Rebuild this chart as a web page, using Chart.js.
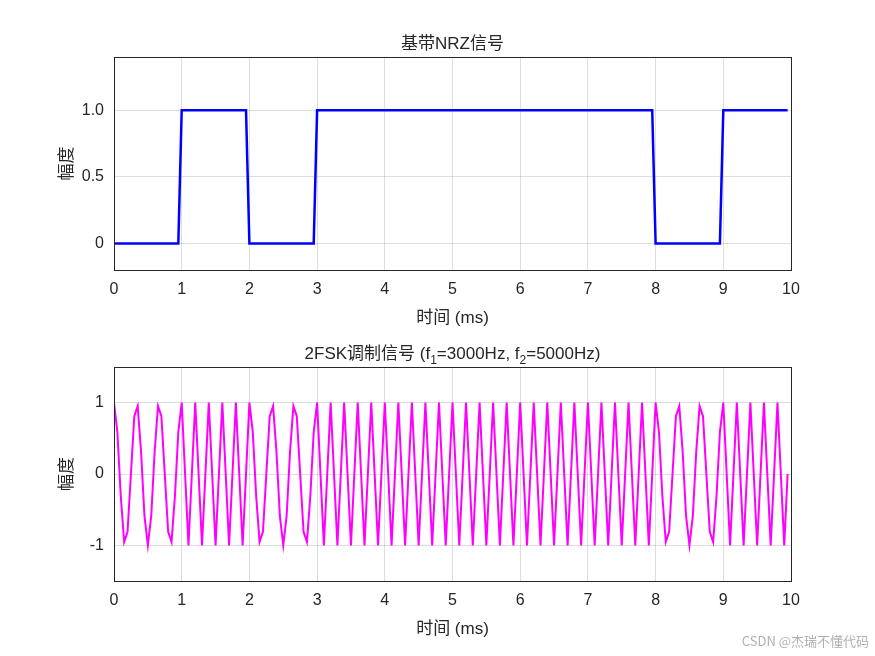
<!DOCTYPE html>
<html>
<head>
<meta charset="utf-8">
<script src="https://cdn.jsdelivr.net/npm/chart.js@4"></script>
<style>
  body { margin: 0; background: #fff; }
  .box { position: absolute; left: 0; width: 875px; height: 328px; }
  #mark { position: absolute; right: 6px; bottom: 6px; font: 13px "Noto Sans CJK SC", sans-serif; color: #b0b0b0; }
</style>
</head>
<body>
<div class="box" style="top:0"><canvas id="nrz"></canvas></div>
<div class="box" style="top:328px"><canvas id="fsk"></canvas></div>
<div id="mark">CSDN @杰瑞不懂代码</div>
<script>
// 数据
const bits = [0, 1, 0, 1, 1, 1, 1, 1, 0, 1];
const sampleStep = 0.05; // ms
// 3000Hz 一个码元内的采样值 (20 点)
const tone3k = [1, 0.588, -0.309, -0.951, -0.809, 0, 0.809, 0.951, 0.309, -0.588,
                -1, -0.588, 0.309, 0.951, 0.809, 0, -0.809, -0.951, -0.309, 0.588];
// 5000Hz 一个码元内的采样值 (20 点)
const tone5k = [1, 0, -1, 0, 1, 0, -1, 0, 1, 0, -1, 0, 1, 0, -1, 0, 1, 0, -1, 0];
const xTicks = [0, 1, 2, 3, 4, 5, 6, 7, 8, 9, 10];
const yTicksNrz = [0, 0.5, 1];
const yTicksFsk = [-1, 0, 1];

const nrzPts = [], fskPts = [];
bits.forEach((b, i) => {
  const tone = b ? tone5k : tone3k;
  tone.forEach((v, k) => {
    const t = (i * 20 + k) * sampleStep;
    nrzPts.push({ x: t, y: b });
    fskPts.push({ x: t, y: v });
  });
});

const txt = '#262626';
const font = '"Liberation Sans", Arial, "Noto Sans CJK SC", sans-serif';

// 标题、坐标轴标签和边框
const decor = {
  id: 'decor',
  afterDraw(chart, args, o) {
    const c = chart.ctx, a = chart.chartArea;
    c.save();
    c.strokeStyle = txt; c.lineWidth = 1;
    c.strokeRect(a.left + 0.5, a.top + 0.5, a.right - a.left, a.bottom - a.top);
    c.fillStyle = txt;
    // 标题 (支持下标)
    c.font = '17px ' + font;
    const w = o.title.reduce((s, p) => { c.font = (p.sub ? '12px ' : '17px ') + font; return s + c.measureText(p.t).width; }, 0);
    let x = (a.left + a.right) / 2 - w / 2;
    c.textBaseline = 'alphabetic';
    o.title.forEach(p => {
      c.font = (p.sub ? '12px ' : '17px ') + font;
      c.fillText(p.t, x, a.top - 8 + (p.sub ? 5 : 0));
      x += c.measureText(p.t).width;
    });
    c.font = '17px ' + font;
    c.textAlign = 'center'; c.textBaseline = 'middle';
    c.fillText('时间 (ms)', (a.left + a.right) / 2, a.bottom + 48);
    c.translate(67, (a.top + a.bottom) / 2);
    c.rotate(-Math.PI / 2);
    c.fillText('幅度', 0, 0);
    c.restore();
  }
};

function makeChart(id, pts, color, width, ymin, ymax, yTicks, padTop, xH, title) {
  return new Chart(document.getElementById(id), {
    type: 'line',
    data: { datasets: [{ data: pts, borderColor: color, borderWidth: width, pointRadius: 0, tension: 0, fill: false }] },
    options: {
      responsive: true, maintainAspectRatio: false, animation: false,
      layout: { padding: { top: padTop, right: 84, left: 0, bottom: 0 } },
      plugins: { legend: { display: false }, tooltip: { enabled: false }, decor: { title } },
      scales: {
        x: {
          type: 'linear', min: 0, max: 10,
          afterBuildTicks: s => { s.ticks = xTicks.map(v => ({ value: v })); },
          afterFit: s => { s.height = xH; },
          grid: { color: 'rgba(0,0,0,0.13)', drawTicks: false },
          border: { display: false },
          ticks: { color: txt, font: { size: 16, family: font }, padding: 10 }
        },
        y: {
          min: ymin, max: ymax,
          afterBuildTicks: s => { s.ticks = yTicks.map(v => ({ value: v })); },
          afterFit: s => { s.width = 114; },
          grid: { color: 'rgba(0,0,0,0.13)', drawTicks: false },
          border: { display: false },
          ticks: { color: txt, font: { size: 16, family: font }, padding: 10 }
        }
      }
    },
    plugins: [decor]
  });
}

makeChart('nrz', nrzPts, '#0000ff', 2.5, -0.2, 1.4, yTicksNrz, 57, 58,
  [{ t: '基带NRZ信号' }]);
makeChart('fsk', fskPts, '#ff00ff', 2, -1.5, 1.5, yTicksFsk, 39, 75,
  [{ t: '2FSK调制信号 (f' }, { t: '1', sub: true }, { t: '=3000Hz, f' }, { t: '2', sub: true }, { t: '=5000Hz)' }]);
</script>
</body>
</html>
